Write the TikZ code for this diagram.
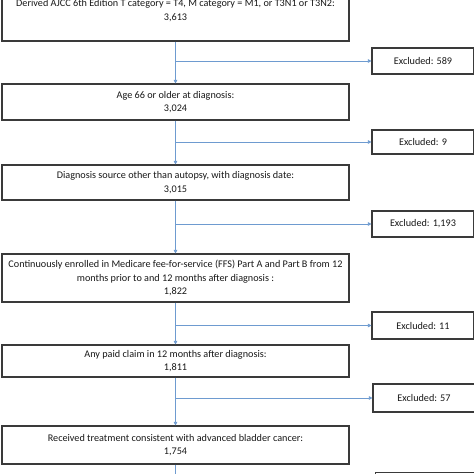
\documentclass[tikz,border=0pt]{standalone}
\usepackage{fontspec}
\setmainfont{Carlito}
\usetikzlibrary{arrows.meta}
\definecolor{arrowblue}{HTML}{6E9BD0}
\definecolor{boxline}{HTML}{3A3A3A}
\tikzset{
  mainbox/.style={draw=boxline, line width=1.1pt, fill=white, minimum width=347pt, align=center, inner sep=0pt, font=\fontsize{10.2}{13.5}\selectfont, text=black!90},
  exclbox/.style={draw=boxline, line width=1.1pt, fill=white, minimum width=102pt, align=center, inner sep=0pt, font=\fontsize{10.2}{13.5}\selectfont, text=black!90},
  flow/.style={draw=arrowblue, line width=0.7pt, -{Triangle[length=3.5pt,width=3.5pt]}},
  flowline/.style={draw=arrowblue, line width=0.7pt}
}
\begin{document}
\begin{tikzpicture}[x=1pt,y=-1pt]
\useasboundingbox (0,0) rectangle (474,474);
\fill[white] (0,0) rectangle (474,474);
% main boxes
\node[mainbox, minimum height=61pt] (b1) at (175.5,10.5) {Derived AJCC 6th Edition T category = T4, M category = M1, or T3N1 or T3N2:\\3,613};
\node[mainbox, minimum height=36pt] (b2) at (175.5,102) {Age 66 or older at diagnosis:\\3,024};
\node[mainbox, minimum height=35pt] (b3) at (175.5,182.5) {Diagnosis source other than autopsy, with diagnosis date:\\3,015};
\node[mainbox, minimum height=48pt] (b4) at (175.5,278) {Continuously enrolled in Medicare fee-for-service (FFS) Part A and Part B from 12\\months prior to and 12 months after diagnosis :\\1,822};
\node[mainbox, minimum height=32pt] (b5) at (175.5,361) {Any paid claim in 12 months after diagnosis:\\1,811};
\node[mainbox, minimum height=38pt] (b6) at (175.5,445) {Received treatment consistent with advanced bladder cancer:\\1,754};
% excluded boxes
\node[exclbox, minimum height=26pt] (e1) at (423,61) {Excluded: 589};
\node[exclbox, minimum height=24pt] (e2) at (423,142) {Excluded: 9};
\node[exclbox, minimum height=26pt] (e3) at (423,224) {Excluded: 1,193};
\node[exclbox, minimum height=27pt] (e4) at (423,325.5) {Excluded: 11};
\node[exclbox, minimum height=28pt] (e5) at (424,398) {Excluded: 57};
\node[exclbox, minimum height=28pt, anchor=north west] (e6) at (375,472) {};
% connectors
\draw[flow] (b1.south) -- (b2.north);
\draw[flow] (b2.south) -- (b3.north);
\draw[flow] (b3.south) -- (b4.north);
\draw[flow] (b4.south) -- (b5.north);
\draw[flow] (b5.south) -- (b6.north);
\coordinate (c1) at (b1.south |- e1.west);
\coordinate (c2) at (b2.south |- e2.west);
\coordinate (c3) at (b3.south |- e3.west);
\coordinate (c4) at (b4.south |- e4.west);
\coordinate (c5) at (b5.south |- e5.west);
\coordinate (c6) at (175.5,480);
\draw[flow] (c1) -- (e1.west);
\draw[flow] (c2) -- (e2.west);
\draw[flow] (c3) -- (e3.west);
\draw[flow] (c4) -- (e4.west);
\draw[flow] (c5) -- (e5.west);
\draw[flowline] (b6.south) -- (c6);
\end{tikzpicture}
\end{document}
